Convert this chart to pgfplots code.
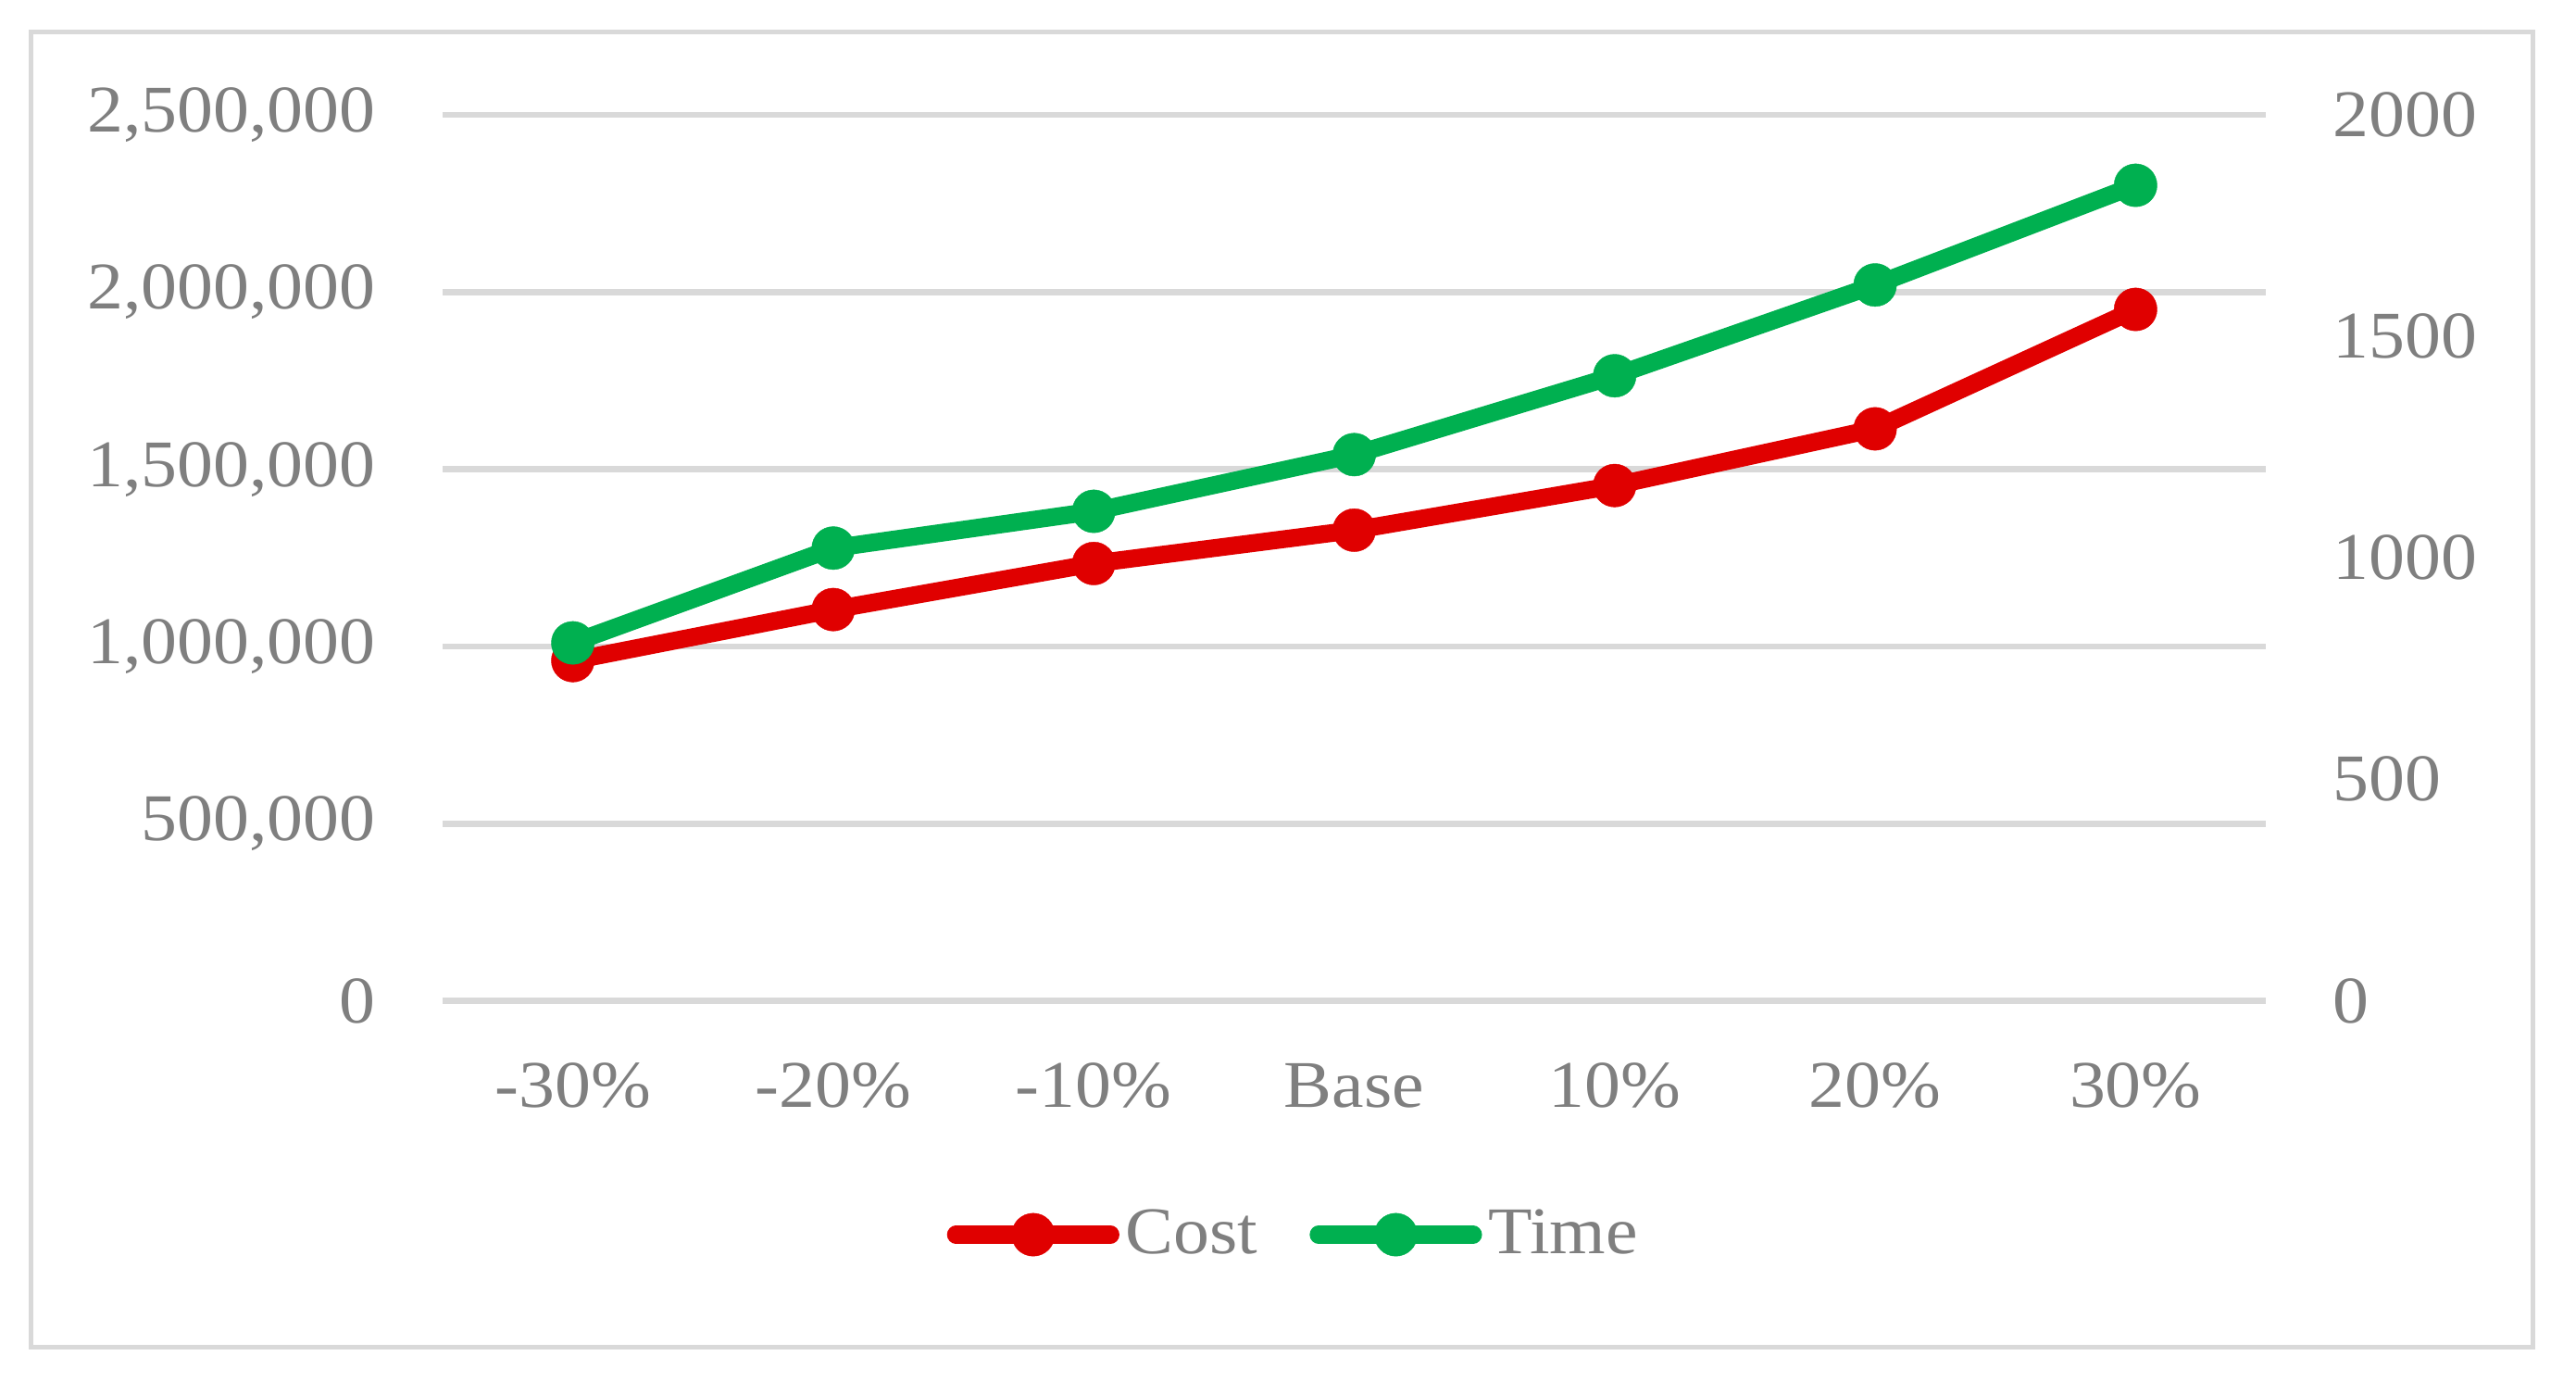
\documentclass[border=0pt]{standalone}
\usepackage{fontspec}
\setmainfont{Liberation Serif}[FakeStretch=1.08]
\usepackage{pgfplots}
\pgfplotsset{compat=1.18}
\definecolor{cred}{HTML}{E00000}
\definecolor{cgreen}{HTML}{00B050}
\definecolor{gridc}{HTML}{D9D9D9}
\definecolor{txt}{HTML}{7F7F7F}
\pgfplotstableread{
x cost time
0 960000 808
1 1104000 1022
2 1234000 1105
3 1328000 1233
4 1454000 1411
5 1614000 1616
6 1951000 1841
}\data
\begin{document}
\begin{tikzpicture}[font=\fontsize{18}{21}\selectfont]
\useasboundingbox (-119.5pt,-102.375pt) rectangle (576pt,270.125pt);
\draw[gridc, line width=1.25pt] (-111pt,-93.375pt) rectangle (564.25pt,261.45pt);
\pgfplotsset{
  common/.style={
    at={(0pt,0pt)}, anchor=south west,
    scale only axis, width=492.25pt, height=239.125pt,
    xmin=-0.5, xmax=6.5,
    axis line style={draw=none},
    major tick length=0pt,
    tick style={draw=none},
    /pgf/number format/assume math mode=true,
    tick label style={font=\fontsize{18}{21}\selectfont, text=txt},
    scaled y ticks=false,
    clip=false,
  },
}
\begin{axis}[common,
  ymin=0, ymax=2500000,
  ytick={0,500000,1000000,1500000,2000000,2500000},
  yticklabel style={anchor=east, inner sep=0pt, xshift=-18pt,
    /pgf/number format/.cd, fixed, 1000 sep={,}},
  xtick={0,...,6},
  xticklabels={-30\%,-20\%,-10\%,Base,10\%,20\%,30\%},
  xticklabel style={anchor=north, inner sep=0pt, yshift=-16.7pt},
  ymajorgrids, grid style={gridc, line width=1.7pt},
]
\addplot[cred, line width=4.8pt, line join=round, mark=*, mark size=5.8pt,
  mark options={solid, fill=cred, draw=cred, line width=0.1pt}]
  table[x=x, y=cost] {\data};
\end{axis}
\begin{axis}[common,
  ymin=0, ymax=2000,
  ytick={0,500,1000,1500,2000},
  hide x axis,
  axis y line*=right,
  yticklabel pos=right,
  yticklabel style={anchor=west, inner sep=0pt, xshift=18pt,
    /pgf/number format/.cd, fixed, 1000 sep={}},
  legend style={at={(axis description cs:0.4661,-0.264)}, anchor=center,
    draw=none, fill=none, legend columns=2,
    font=\fontsize{18}{21}\selectfont, text=txt,
    nodes={inner sep=0pt},
    /tikz/every even column/.append style={column sep=14pt}},
  legend image code/.code={\draw[mark repeat=2, mark phase=2, line cap=round, #1]
    plot coordinates {(2.5pt,0pt) (23.375pt,0pt) (44.25pt,0pt)};},
]
\addlegendimage{cred, line width=4.8pt, mark=*, mark size=5.8pt,
  mark options={solid, fill=cred, draw=cred, line width=0.1pt}}
\addlegendentry{\hspace{1.7pt}Cost}
\addplot[cgreen, line width=4.8pt, line join=round, mark=*, mark size=5.8pt,
  mark options={solid, fill=cgreen, draw=cgreen, line width=0.1pt}]
  table[x=x, y=time] {\data};
\addlegendentry{\hspace{1.7pt}Time}
\end{axis}
\end{tikzpicture}
\end{document}
